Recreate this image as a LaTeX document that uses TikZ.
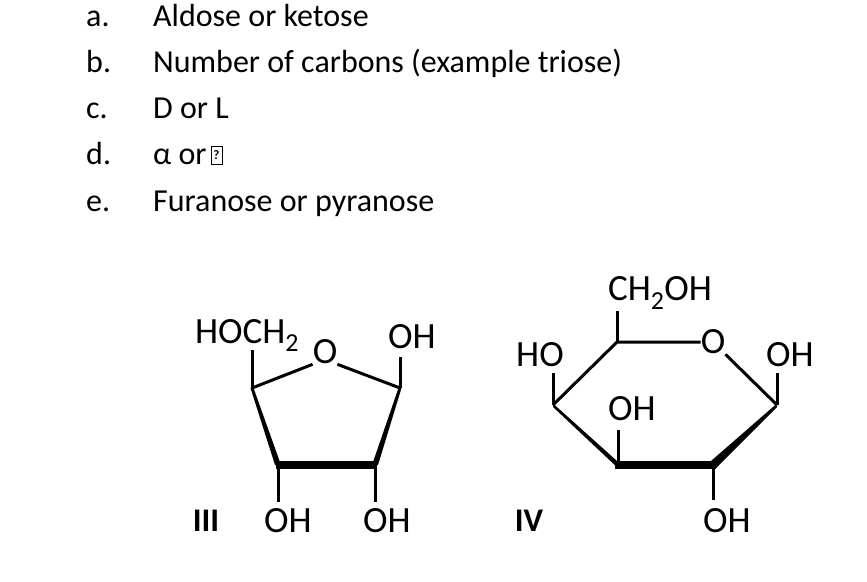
\documentclass[tikz,border=0pt]{standalone}
\usepackage{fontspec}
\setmainfont{Carlito}
\begin{document}
\begin{tikzpicture}[x=1pt,y=-1pt,
  lst/.style={anchor=base west,font=\fontsize{32}{35}\selectfont,inner sep=0},
  chem/.style={font=\fontsize{37}{40}\selectfont,inner sep=0},
  bnd/.style={line width=3pt},
  lbl/.style={font=\bfseries\fontsize{33}{36}\selectfont,inner sep=0}]
\useasboundingbox (0,0) rectangle (867,581);
% list
\foreach \l/\t/\y in {a./Aldose or ketose/26, b./Number of carbons (example triose)/72, c./D or L/118, e./Furanose or pyranose/211}{
  \node[lst] at (86,\y) {\l};
  \node[lst] at (153,\y) {\t};
}
\node[lst] (dl) at (86,164) {d.};
\node[lst] (dt) at (153,164) {α or};
\draw[line width=0.8pt] (211,146) rectangle (222,164);
\node[font=\fontsize{13}{14}\selectfont\bfseries,inner sep=0] (q) at (216.5,155) {?};
% furanose
\coordinate (fC4) at (252,388); \coordinate (fC1) at (400,388);
\coordinate (fC3) at (278,465); \coordinate (fC2) at (375,465);
\node[chem] (fO) at (325,352) {O};
\node[chem,anchor=base] (fHOCH) at (247,343) {HOCH\textsubscript{2}};
\node[chem] (fOH1) at (412,337) {OH};
\node[chem] (fOH3) at (288,521) {OH};
\node[chem] (fOH2) at (387,521) {OH};
\node[lbl] (fIII) at (206,521) {III};
\draw[bnd] (fC4) -- (fO.south west);
\draw[bnd] (fO.south east) -- (fC1);
\draw[bnd] (fC4) -- (252,350);
\draw[bnd] (fC1) -- (400,357);
\fill (250.5,388) -- (253.5,388) -- (281,465) -- (275,465) -- cycle;
\fill (398.5,388) -- (401.5,388) -- (378,465) -- (372,465) -- cycle;
\draw[line width=8pt] (276,465) -- (377,465);
\draw[bnd] (fC3) -- (278,502);
\draw[bnd] (fC2) -- (375,502);
% pyranose
\coordinate (pC5) at (617,342); \coordinate (pC1) at (777,405);
\coordinate (pC2) at (713,465); \coordinate (pC3) at (618,465); \coordinate (pC4) at (553,405);
\node[chem] (pO) at (713,342) {O};
\node[chem] (pCH) at (660,293) {CH\textsubscript{2}OH};
\node[chem] (pHO) at (540,355) {HO};
\node[chem] (pOH3) at (632,409) {OH};
\node[chem] (pOH1) at (790,355) {OH};
\node[chem] (pOH2) at (727,521) {OH};
\node[lbl] (pIV) at (529,521) {IV};
\draw[bnd] (pC4) -- (pC5) -- (pO.west);
\draw[bnd] (pO.south east) -- (pC1);
\draw[bnd] (pC5) -- (617,311);
\draw[bnd] (pC4) -- (553,373);
\draw[bnd] (pC3) -- (618,430);
\draw[bnd] (pC1) -- (777,373);
\draw[bnd] (pC2) -- (713,500);
\fill (553,403.5) -- (553,407) -- (619,469) -- (617,461) -- cycle;
\fill (777,403.5) -- (777,407) -- (715,469) -- (711,461) -- cycle;
\draw[line width=8pt] (615,465) -- (716,465);
\end{tikzpicture}
\end{document}
